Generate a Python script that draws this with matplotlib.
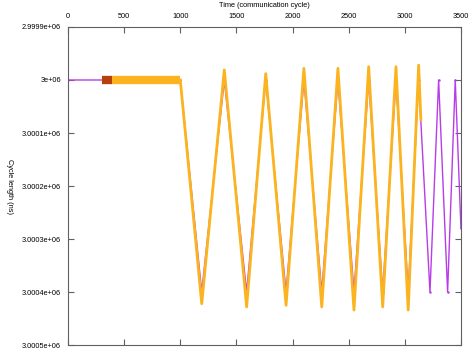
## cycle length vs. time, gnuplot-like look, flipped vertically
import matplotlib.pyplot as plt
from matplotlib.ticker import FormatStrFormatter, MultipleLocator

plt.rcParams['font.family'] = ['Liberation Sans', 'DejaVu Sans']

# time (communication cycle) and cycle length (ns)
purple_t = [0, 1000, 1191, 1392, 1591, 1761, 1942, 2101, 2260, 2404, 2547,
            2678, 2803, 2921, 3030, 3123, 3224, 3301, 3381, 3449, 3500]
purple_len = [3000000, 3000000, 3000400, 3000000, 3000400, 3000000, 3000400,
              3000000, 3000400, 3000000, 3000400, 3000000, 3000400, 3000000,
              3000400, 3000000, 3000400, 3000000, 3000400, 3000000, 3000280]

brown_t = [303, 392]
brown_len = [3000000, 3000000]

orange_flat_t = [392, 1000]
orange_flat_len = [3000000, 3000000]

orange_t = [1000, 1191, 1392, 1591, 1761, 1942, 2101, 2260, 2404, 2547,
            2678, 2803, 2921, 3030, 3123, 3143]
orange_len = [3000000, 3000422, 2999981, 3000428, 2999988, 3000425, 2999978,
              3000428, 2999978, 3000434, 2999975, 3000428, 2999975, 3000434,
              2999972, 3000075]

fig = plt.figure(figsize=(4.74, 3.55), dpi=100)
ax = fig.add_axes([0.1435, 0.028, 0.829, 0.896])

ax.plot(purple_t, purple_len, color='#b83ce8', lw=1.0, marker='.', ms=1.5)
ax.plot(brown_t, brown_len, color='#b5400a', lw=6, solid_capstyle='butt')
ax.plot(orange_flat_t, orange_flat_len, color='#fbb41f', lw=6, solid_capstyle='butt')
ax.plot(orange_t, orange_len, color='#fbb41f', lw=2.0)

ax.set_xlim(0, 3500)
ax.set_ylim(3000500, 2999900)
ax.xaxis.set_major_locator(MultipleLocator(500))
ax.yaxis.set_major_locator(MultipleLocator(100))
ax.yaxis.set_major_formatter(FormatStrFormatter('%g'))

ax.xaxis.tick_top()
ax.xaxis.set_label_position('top')
ax.tick_params(direction='in', top=True, bottom=True, left=True, right=True,
               labelsize=5.3, length=4, color='#606060', pad=5)
for s in ax.spines.values():
    s.set_color('#606060')

ax.set_xlabel('Time (communication cycle)', fontsize=5.3, labelpad=4)
ax.set_ylabel('Cycle length (ns)', fontsize=5.3, rotation=270, va='center')
ax.yaxis.set_label_coords(-0.148, 0.5)

plt.savefig('out.png', dpi=100)
